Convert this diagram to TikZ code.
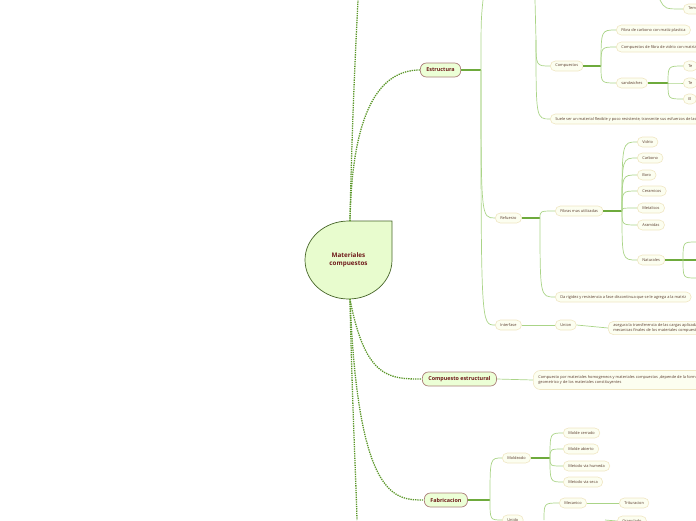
\documentclass[tikz,border=0pt]{standalone}
\usepackage{fontspec}
\setmainfont{Open Sans}
\begin{document}
\begin{tikzpicture}[x=1pt,y=-1pt,
 conn/.style={line width=0.7pt, color={rgb,255:red,170;green,212;blue,135}},
 stub/.style={line width=1.2pt, color={rgb,255:red,110;green,170;blue,60}},
 mainl/.style={densely dotted, line width=1.3pt, color={rgb,255:red,90;green,150;blue,40}},
 leaf/.style={draw={rgb,255:red,240;green,230;blue,195}, fill={rgb,255:red,252;green,254;blue,240}, rounded corners=5pt, line width=0.6pt, minimum height=10pt, inner xsep=5pt, inner ysep=2pt, font=\fontsize{3.9}{4.8}\selectfont, text={rgb,255:red,90;green,60;blue,45}, anchor=west, align=left},
 topic/.style={draw={rgb,255:red,170;green,125;blue,120}, fill={rgb,255:red,236;green,255;blue,214}, rounded corners=6pt, line width=0.7pt, minimum height=14pt, inner xsep=6pt, font=\fontsize{5.4}{6.5}\selectfont\bfseries, text={rgb,255:red,110;green,25;blue,25}, anchor=west}]
\useasboundingbox (0,0) rectangle (696,520);
\draw[fill={rgb,255:red,232;green,252;blue,206}, draw={rgb,255:red,70;green,100;blue,40}, line width=0.7pt]
 (348.5,221) -- (392,221) -- (392,260) arc[start angle=0,end angle=270,x radius=43.5,y radius=39] -- cycle;
\node[font=\fontsize{6.3}{7.8}\selectfont\bfseries, text={rgb,255:red,110;green,25;blue,25}, align=center] (cen) at (348.5,260) {Materiales\\compuestos};
\coordinate (ct) at (350,221); \coordinate (cb) at (350,299);
\node[topic] (est) at (420,70) {Estructura};
\node[topic] (ce) at (422,379) {Compuesto estructural};
\node[topic] (fab) at (424,500) {Fabricacion};
\coordinate (topend) at (358,0); \coordinate (botend) at (357,520);
\draw[mainl] (ct) .. controls (352,120) and (356,40) .. (topend);
\draw[mainl] (ct) .. controls (352,110) and (380,70) .. (est.west);
\draw[mainl] (cb) .. controls (365,379) and (390,379) .. (ce.west);
\draw[mainl] (cb) .. controls (358,500) and (395,500) .. (fab.west);
\draw[mainl] (cb) .. controls (352,400) and (356,480) .. (botend);
\coordinate (j1) at (481,70);
\draw[stub] (est.east) -- (j1);
\node[leaf] (ref) at (495,218) {Refuerzo};
\node[leaf] (int) at (495,325) {Interfase};
\coordinate (j1top) at (483,0);
\draw[conn] (j1) .. controls (481,20) .. (j1top);
\draw[conn] (j1) .. controls (481,218) .. (ref.west);
\draw[conn] (j1) .. controls (481,325) .. (int.west);
\coordinate (j2top) at (535,0); \coordinate (j2) at (536,40);
\draw[conn] (j2top) -- (j2);
\node[leaf] (comp) at (550,66) {Compuestos};
\node[leaf] (suele) at (550,119) {Suele ser un material flexible y poco resistente, transmite sus esfuerzos de las fibras};
\draw[conn] (j2) .. controls (536,66) .. (comp.west);
\draw[conn] (j2) .. controls (536,119) .. (suele.west);
\coordinate (tp0) at (660,0);
\node[leaf] (temp) at (683,9) {Temperatura};
\draw[conn] (tp0) .. controls (665,9) .. (temp.west);
\coordinate (j3) at (601,66);
\draw[stub] (comp.east) -- (j3);
\node[leaf] (fc) at (616,30) {Fibra de carbono con matiz plastica};
\node[leaf] (fv) at (616,47) {Compuestos de fibra de vidrio con matriz polimerica};
\node[leaf] (sw) at (616,83) {sandwiches};
\foreach \n in {fc,fv,sw} \draw[conn] (j3) .. controls (j3 |- \n.west) .. (\n.west);
\coordinate (j4) at (668,83);
\draw[stub] (sw.east) -- (j4);
\node[leaf] (t1) at (683,66) {Te};
\node[leaf] (t2) at (683,83) {Te};
\node[leaf] (t3) at (683,99) {El};
\foreach \n in {t1,t2,t3} \draw[conn] (j4) .. controls (j4 |- \n.west) .. (\n.west);
\coordinate (j5) at (540,218);
\draw[stub] (ref.east) -- (j5);
\node[leaf] (fib) at (555,211) {Fibras mas utilizadas};
\node[leaf] (da) at (555,297) {Da rigidez y resistencia a fase discontinua que se le agrega a la matriz};
\draw[conn] (j5) .. controls (540,211) .. (fib.west);
\draw[conn] (j5) .. controls (540,297) .. (da.west);
\coordinate (j6) at (622,211);
\draw[stub] (fib.east) -- (j6);
\node[leaf] (vi) at (637,142) {Vidrio};
\node[leaf] (ca) at (637,158) {Carbono};
\node[leaf] (bo) at (637,175) {Boro};
\node[leaf] (cer) at (637,191) {Ceramicos};
\node[leaf] (me) at (637,208) {Metalicos};
\node[leaf] (ar) at (637,225) {Aramidas};
\node[leaf] (na) at (637,260) {Naturales};
\foreach \n in {vi,ca,bo,cer,me,ar,na} \draw[conn] (j6) .. controls (j6 |- \n.west) .. (\n.west);
\coordinate (j7) at (683,260);
\coordinate (n1) at (696,242); \coordinate (n2) at (696,260); \coordinate (n3) at (696,278);
\draw[stub] (na.east) -- (j7) -- (n2);
\draw[conn] (n1) .. controls (683,242) .. (j7) .. controls (683,278) .. (n3);
\node[leaf] (un) at (555,325) {Union};
\draw[conn] (int.east) -- (un.west);
\node[leaf, font=\fontsize{3.9}{5.2}\selectfont] (as) at (608,328) {asegura la transferencia de las cargas aplicadas y las propiedades\\mecanicas finales de los materiales compuestos};
\draw[conn] (un.east) -- (as.west);
\node[leaf, font=\fontsize{3.9}{5.2}\selectfont, rounded corners=7pt, minimum height=19pt] (cp) at (533,380) {Compuesto por materiales homogeneos y materiales compuestos ,depende de la forma\\geometrico y de los materiales constituyentes};
\draw[conn] (ce.east) -- (cp.west);
\coordinate (j8) at (490,500);
\draw[stub] (fab.east) -- (j8);
\node[leaf] (mo) at (502,458) {Moldeado};
\node[leaf] (ud) at (502,520) {Unido};
\draw[conn] (j8) .. controls (490,458) .. (mo.west);
\draw[conn] (j8) .. controls (490,520) .. (ud.west);
\coordinate (j9) at (550,458);
\draw[stub] (mo.east) -- (j9);
\node[leaf] (m1) at (563,433) {Molde cerrado};
\node[leaf] (m2) at (563,449) {Molde abierto};
\node[leaf] (m3) at (563,466) {Metodo via humeda};
\node[leaf] (m4) at (563,482) {Metodo via seca};
\foreach \n in {m1,m2,m3,m4} \draw[conn] (j9) .. controls (j9 |- \n.west) .. (\n.west);
\coordinate (j10) at (544,520);
\node[leaf] (mec) at (559,503) {Mecanico};
\draw[conn] (j10) .. controls (544,503) .. (mec.west);
\node[leaf] (tri) at (619,503) {Trituracion};
\draw[conn] (mec.east) -- (tri.west);
\node[leaf] (gr) at (617,521) {Granulado};
\coordinate (j11) at (605,520);
\draw[conn] (j11) -- (gr.west);
\end{tikzpicture}
\end{document}
